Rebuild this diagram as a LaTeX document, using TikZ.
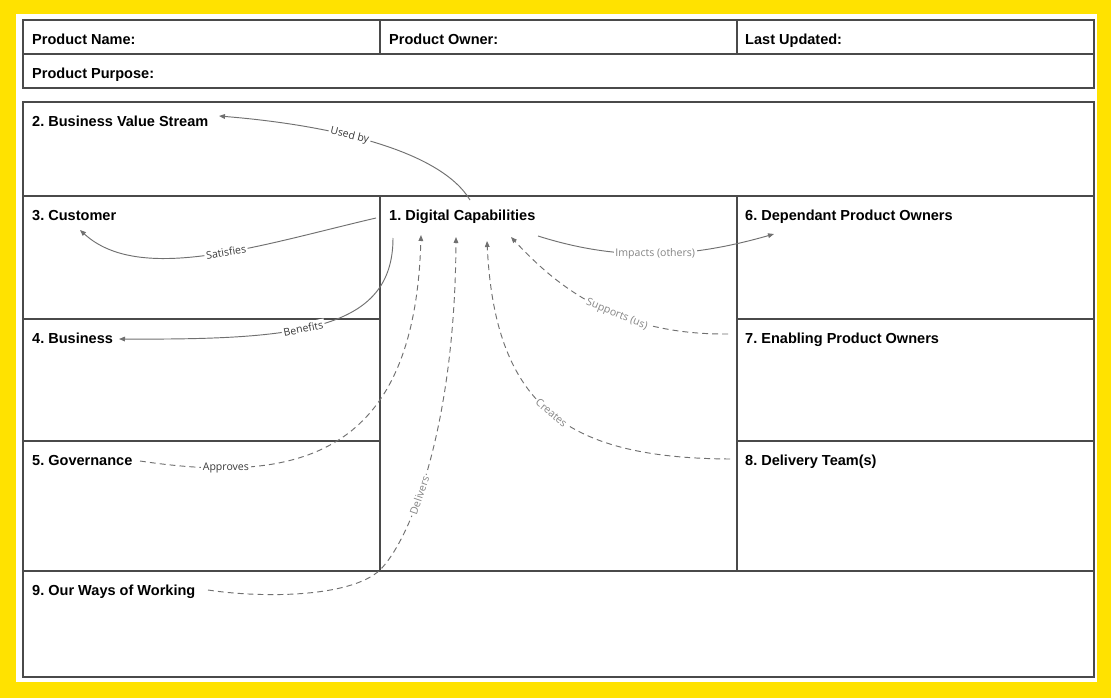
\documentclass[tikz,border=0pt]{standalone}
\usepackage{fontspec}
\setmainfont{Liberation Sans}
\newfontfamily\lblfont{Open Sans}
\usetikzlibrary{arrows.meta}
\frenchspacing
\definecolor{frameyellow}{HTML}{FFE200}
\definecolor{gridline}{HTML}{4A4A4A}
\definecolor{wiregrey}{HTML}{707070}
\definecolor{lbldark}{HTML}{3A3A3A}
\definecolor{lbllight}{HTML}{858585}
\tikzset{
  cell/.style ={draw=gridline,line width=1pt},
  ttl/.style  ={anchor=base west,inner sep=0pt,font=\fontsize{12.4}{14}\selectfont\bfseries},
  link/.style ={-{Triangle[length=1.8mm,width=1.4mm]},wiregrey,line width=.8pt},
  dlink/.style={link,dash pattern=on 5pt off 3.5pt},
  lbl/.style  ={font=\lblfont\fontsize{9}{10}\selectfont,fill=white,inner sep=1.5pt,text=lbldark},
  llbl/.style ={lbl,text=lbllight},
}

\begin{document}
\begin{tikzpicture}[x=0.03cm,y=-0.03cm]

% ===================== FUNDO ========================================
\fill[frameyellow] (0,0) rectangle (1111,698);
\fill[white] (16,14) rectangle (1097,682);

% ===================== CABECALHO ====================================
\draw[cell] (23,20) rectangle (1094,88);
\draw[cell] (23,54) -- (1094,54);
\draw[cell] (380,20) -- (380,54);
\draw[cell] (737,20) -- (737,54);

% ===================== GRELHA =======================================
\draw[cell] (23,102) rectangle (1094,677);
\draw[cell] (23,196) -- (1094,196);
\draw[cell] (23,571) -- (1094,571);
\draw[cell] (380,196) -- (380,571);
\draw[cell] (737,196) -- (737,571);
\draw[cell] (23,319) -- (380,319);  \draw[cell] (737,319) -- (1094,319);
\draw[cell] (23,441) -- (380,441);  \draw[cell] (737,441) -- (1094,441);

% ===================== TITULOS ======================================
\node[ttl] (pname)  at (32,44)   {Product Name:};
\node[ttl] (powner) at (389,44)  {Product Owner:};
\node[ttl] (lupd)   at (745,44)  {Last Updated:};
\node[ttl] (ppurp)  at (32,78)   {Product Purpose:};
\node[ttl] (bvs)    at (32,126)  {2. Business Value Stream};
\node[ttl] (cust)   at (32,220)  {3. Customer};
\node[ttl] (dc)     at (389,220) {1. Digital Capabilities};
\node[ttl] (dpo)    at (745,220) {6. Dependant Product Owners};
\node[ttl] (bus)    at (32,343)  {4. Business};
\node[ttl] (epo)    at (745,343) {7. Enabling Product Owners};
\node[ttl] (gov)    at (32,465)  {5. Governance};
\node[ttl] (dt)     at (745,465) {8. Delivery Team(s)};
\node[ttl] (ways)   at (32,595)  {9. Our Ways of Working};

% pontas das ligacoes
\coordinate (dcUp)    at (470,200);
\coordinate (bvsIn)   at (219,116);
\coordinate (dcL)     at (376,218);
\coordinate (custIn)  at (80,230);
\coordinate (dcLow)   at (393,238);
\coordinate (busIn)   at (119,339);
\coordinate (dcR)     at (538,236);
\coordinate (dpoIn)   at (774,234);
\coordinate (epoOut)  at (728,334);
\coordinate (dcIn4)   at (511,237);
\coordinate (dtOut)   at (730,459);
\coordinate (dcIn3)   at (487,241);
\coordinate (waysOut) at (208,590);
\coordinate (dcIn2)   at (456,237);
\coordinate (govOut)  at (140,461);
\coordinate (dcIn1)   at (421,235);

% ===================== SAIDAS (cheio) ===============================
\draw[link] (dcUp) .. controls (440,150) and (330,125) .. (bvsIn)
  node[lbl,sloped,pos=.59]{Used by};
\draw[link] (dcL) .. controls (260,245) and (140,285) .. (custIn)
  node[lbl,sloped,pos=.44]{Satisfies};
\draw[link] (dcLow) .. controls (393,330) and (300,340) .. (busIn)
  node[lbl,sloped,pos=.57]{Benefits};
\draw[link] (dcR) .. controls (620,262) and (690,258) .. (dpoIn)
  node[llbl,pos=.5]{Impacts (others)};

% ===================== ENTRADAS (tracejado) =========================
\draw[dlink] (epoOut) .. controls (620,335) and (560,290) .. (dcIn4)
  node[llbl,sloped,pos=.41]{Supports (us)};
\draw[dlink] (dtOut) .. controls (570,458) and (495,410) .. (dcIn3)
  node[llbl,sloped,pos=.5]{Creates};
\draw[dlink] (waysOut) .. controls (260,598) and (350,598) .. (380,570)
  .. controls (410,540) and (455,430) .. (dcIn2)
  node[llbl,sloped,pos=.4]{Delivers};
\draw[dlink] (govOut) .. controls (300,485) and (415,455) .. (dcIn1)
  node[lbl,pos=.19]{Approves};

\end{tikzpicture}
\end{document}
